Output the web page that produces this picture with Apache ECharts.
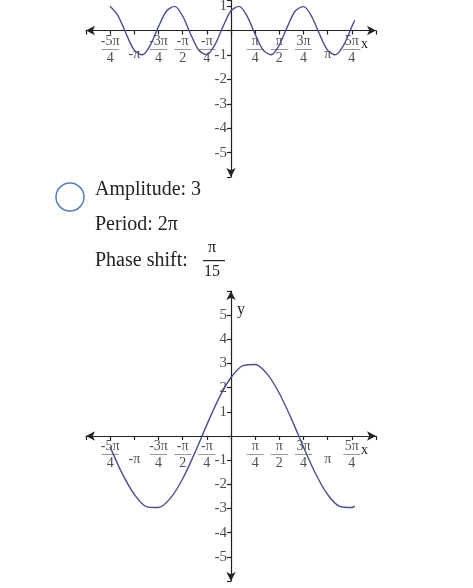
<!DOCTYPE html>
<html><head><meta charset="utf-8">
<script src="https://cdn.jsdelivr.net/npm/echarts@6/dist/echarts.min.js"></script>
<style>html,body{margin:0;padding:0;background:#fff}#c{width:473px;height:588px}</style>
</head><body><div id="c"></div>
<script>
const PI = Math.PI;
// x tick labels at multiples of pi/4 (numerator, denominator)
const xTickLabels = {'-5':['-5π','4'],'-4':['-π',''],'-3':['-3π','4'],'-2':['-π','2'],'-1':['-π','4'],'1':['π','4'],'2':['π','2'],'3':['3π','4'],'4':['π',''],'5':['5π','4']};
const xTickSteps = [-5,-4,-3,-2,-1,1,2,3,4,5];
// top graph curve (x in radians, y)
const topX = [-3.93,-3.67,-3.40,-3.14,-2.88,-2.62,-2.36,-2.09,-1.83,-1.57,-1.31,-1.05,-0.79,-0.52,-0.26,0,0.26,0.52,0.79,1.05,1.31,1.57,1.83,2.09,2.36,2.62,2.88,3.14,3.40,3.67,3.93,4.02];
const topY = [0.99,0.60,-0.16,-0.81,-0.99,-0.59,0.15,0.81,0.99,0.59,-0.15,-0.80,-0.99,-0.58,0.16,0.81,0.99,0.60,-0.17,-0.81,-0.99,-0.59,0.15,0.80,0.98,0.58,-0.16,-0.81,-0.99,-0.58,0.17,0.42];
// bottom graph curve
const botX = [-3.93,-3.53,-3.14,-2.75,-2.36,-1.96,-1.57,-1.18,-0.79,-0.39,0,0.39,0.79,1.18,1.57,1.96,2.36,2.75,3.14,3.53,3.93,4.02];
const botY = [-0.45,-1.57,-2.42,-2.92,-2.96,-2.56,-1.77,-0.71,0.45,1.57,2.42,2.91,2.96,2.56,1.77,0.72,-0.47,-1.56,-2.42,-2.91,-2.96,-2.9];
const yTop = [-5,-4,-3,-2,-1,1];
const yBot = [-5,-4,-3,-2,-1,1,2,3,4,5];

const col = '#222';
const serif = 'Liberation Serif';
function xAxisCfg(idx){
  return {gridIndex:idx,type:'value',min:-3*PI/2,max:3*PI/2,interval:PI/4,
    axisLine:{onZero:true,symbol:['arrow','arrow'],symbolSize:[7,9],lineStyle:{color:col,width:1.2}},
    axisTick:{show:true,length:4,lineStyle:{color:col,width:1.2}},
    splitLine:{show:false},axisLabel:{show:false}};
}
function yAxisCfg(idx,min,max,arrows){
  return {gridIndex:idx,type:'value',min:min,max:max,interval:1,
    axisLine:{onZero:true,symbol:arrows,symbolSize:[7,9],lineStyle:{color:col,width:1.2}},
    axisTick:{show:true,length:4,lineStyle:{color:col,width:1.2}},splitLine:{show:false},axisLabel:{show:false}};
}
function xLabelSeries(idx){
  return {type:'scatter',xAxisIndex:idx,yAxisIndex:idx,symbolSize:0,silent:true,
    data:xTickSteps.map(k=>({value:[k*PI/4,0],name:String(k)})),
    label:{show:true,position:'bottom',distance:4,color:col,fontFamily:serif,fontSize:14,lineHeight:13,
      formatter:p=>{const t=xTickLabels[p.name];
        return t[1]?('{n|'+t[0]+'}\n{b|───}\n{n|'+t[1]+'}'):('\n{n|'+t[0]+'}');},
      rich:{n:{fontFamily:serif,fontSize:14,lineHeight:13,color:col},b:{fontSize:8,lineHeight:4,color:col,fontWeight:'bold'}}}};
}
function yLabelSeries(idx,list){
  return {type:'scatter',xAxisIndex:idx,yAxisIndex:idx,symbolSize:0,silent:true,
    data:list.map(v=>[0,v]),
    label:{show:true,position:'left',distance:4,color:col,fontFamily:serif,fontSize:15,formatter:p=>String(p.value[1])}};
}
const chart = echarts.init(document.getElementById('c'));
chart.setOption({
  animation:false,
  grid:[{left:86,top:0,width:290,height:177},{left:86,top:291,width:290,height:290}],
  xAxis:[xAxisCfg(0),xAxisCfg(1)],
  yAxis:[yAxisCfg(0,-6,1.25,['arrow','none']),yAxisCfg(1,-6,6,['arrow','arrow'])],
  series:[
    xLabelSeries(0),xLabelSeries(1),yLabelSeries(0,yTop),yLabelSeries(1,yBot),
    {type:'line',xAxisIndex:0,yAxisIndex:0,smooth:0.3,showSymbol:false,lineStyle:{color:'#4b5088',width:1.4},data:topX.map((x,i)=>[x,topY[i]])},
    {type:'line',xAxisIndex:1,yAxisIndex:1,smooth:0.3,showSymbol:false,lineStyle:{color:'#4b5088',width:1.4},data:botX.map((x,i)=>[x,botY[i]])}
  ],
  graphic:[
    {type:'circle',shape:{cx:70,cy:197,r:14},style:{fill:'#fff',stroke:'#5a7fb8',lineWidth:1.5}},
    {type:'text',left:95,top:180,style:{text:'Amplitude: 3',font:'20px Liberation Serif',fill:'#222'}},
    {type:'text',left:95,top:215,style:{text:'Period: 2π',font:'20px Liberation Serif',fill:'#222'}},
    {type:'text',left:95,top:251,style:{text:'Phase shift:',font:'20px Liberation Serif',fill:'#222'}},
    {type:'text',left:208,top:240,style:{text:'π',font:'16px Liberation Serif',fill:'#222'}},
    {type:'rect',shape:{x:203,y:260,width:22,height:1.2},style:{fill:'#222'}},
    {type:'text',left:204,top:264,style:{text:'15',font:'16px Liberation Serif',fill:'#222'}},
    {type:'text',left:237,top:302,style:{text:'y',font:'16px Liberation Serif',fill:col}},
    {type:'text',left:361,top:443,style:{text:'x',font:'14px Liberation Serif',fill:col}},
    {type:'text',left:361,top:37,style:{text:'x',font:'14px Liberation Serif',fill:col}}
  ]
});
</script></body></html>
